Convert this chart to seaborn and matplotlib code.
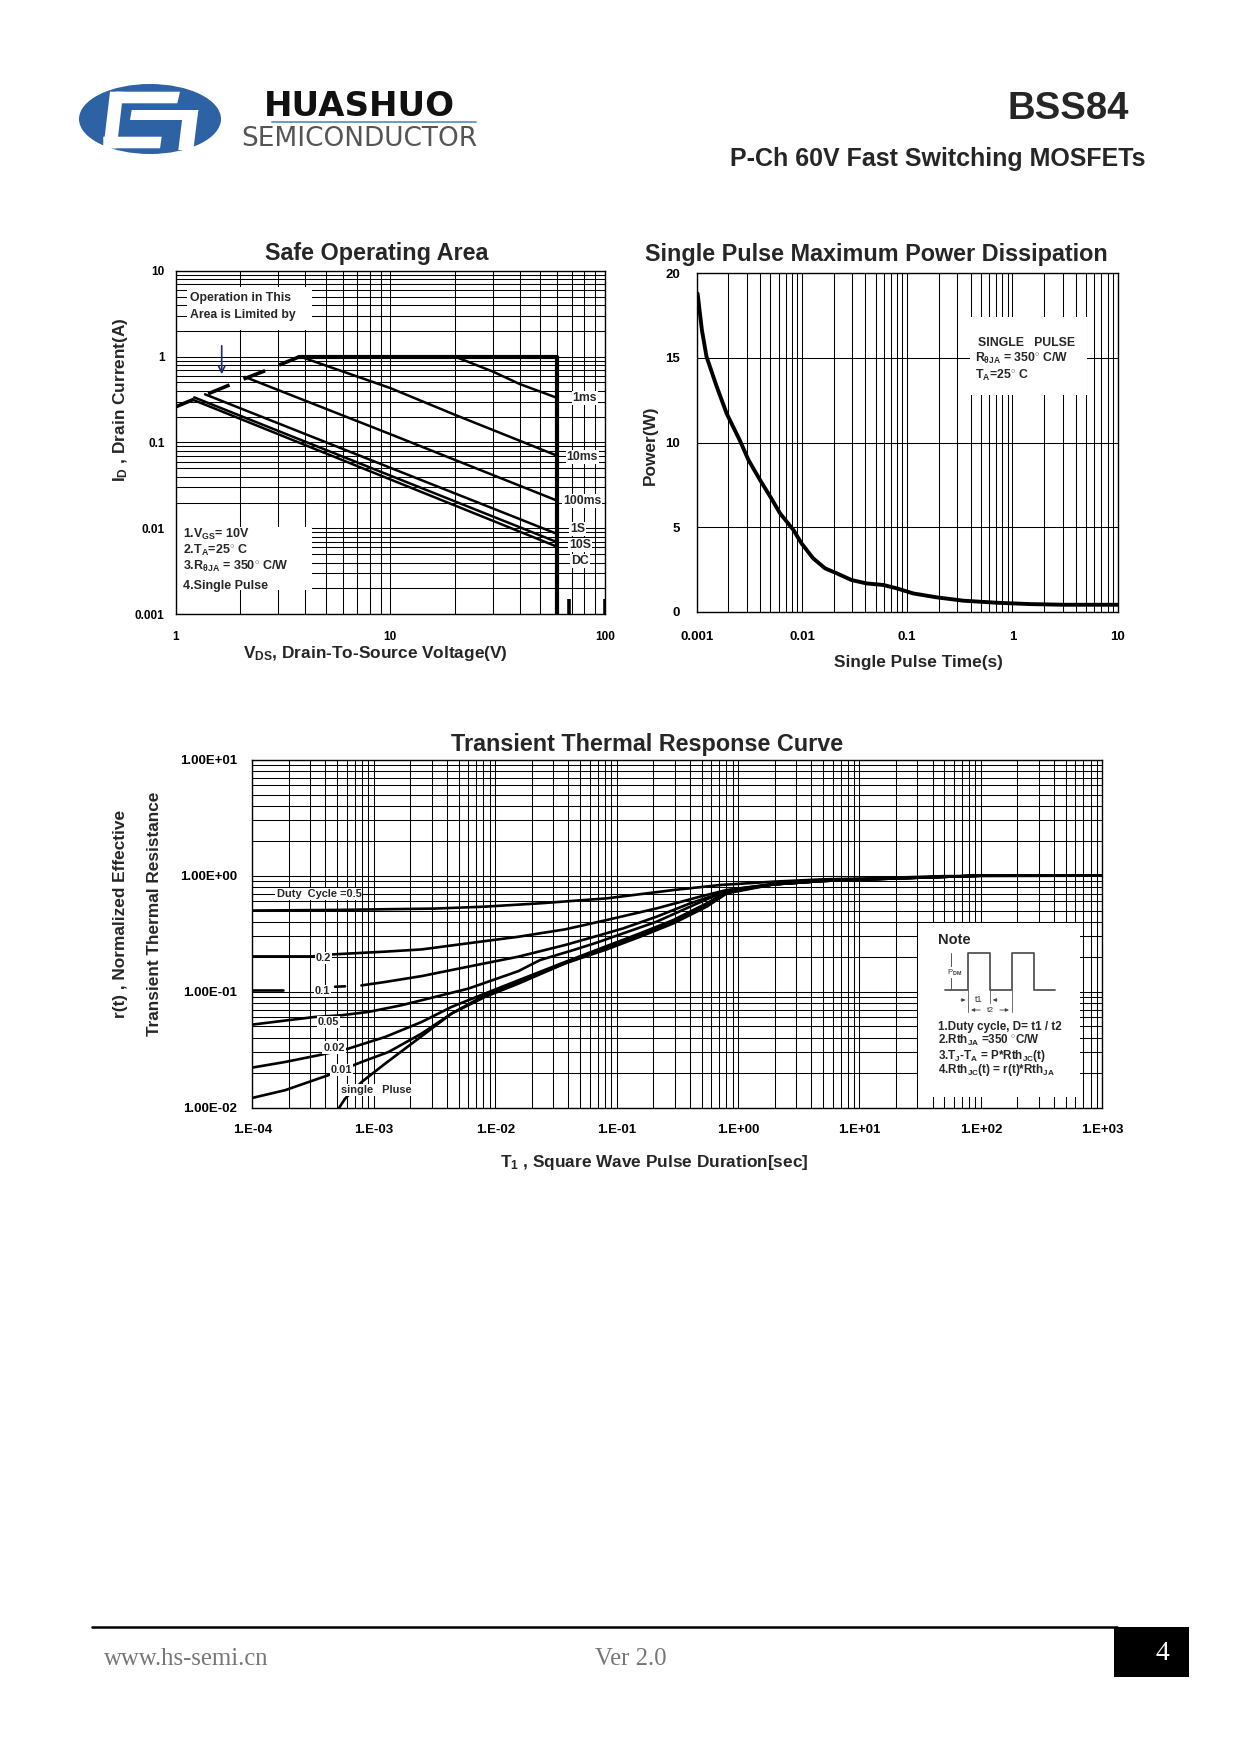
import numpy as np
import matplotlib
matplotlib.use("Agg")
import matplotlib.pyplot as plt
import seaborn as sns
from matplotlib.patches import Ellipse, Polygon, Rectangle
from matplotlib.ticker import LogLocator, NullFormatter

# ---------------------------------------------------------------- data
# Safe Operating Area (V, A)
soa_limit_v = [1.0, 1.22, 1.42, 1.79, 2.08, 2.63, 3.04, 3.75]
soa_limit_i = [0.26, 0.32, 0.37, 0.47, 0.55, 0.69, 0.80, 0.99]
soa_bound_v = [3.75, 60.0, 60.0]
soa_bound_i = [1.0, 1.0, 0.001]
soa_1ms_v = [20, 30, 40, 60]
soa_1ms_i = [1.0, 0.67, 0.48, 0.33]
soa_10ms_v = [3.8, 10, 20, 30, 60]
soa_10ms_i = [1.0, 0.43, 0.21, 0.14, 0.07]
soa_100ms_v = [2.1, 10, 60]
soa_100ms_i = [0.58, 0.125, 0.021]
soa_1s_v = [1.37, 60]
soa_1s_i = [0.364, 0.0086]
soa_10s_v = [1.22, 60]
soa_10s_i = [0.335, 0.0069]
soa_dc_v = [1.22, 60]
soa_dc_i = [0.31, 0.0061]
soa_labels = ["1ms", "10ms", "100ms", "1S", "10S", "DC"]
soa_label_v = [70.7, 66.3, 63.9, 68.7, 68.2, 69.4]
soa_label_i = [0.327, 0.0684, 0.0210, 0.00976, 0.0064, 0.0042]
soa_stub_v = [68, 100]
soa_stub_i = [0.001, 0.0015]
soa_xticks = [1, 10, 100]
soa_xticklabels = ["1", "10", "100"]
soa_yticks = [0.001, 0.01, 0.1, 1, 10]
soa_yticklabels = ["0.001", "0.01", "0.1", "1", "10"]

# Single pulse maximum power dissipation (s, W)
pw_t = [0.00102, 0.00112, 0.00124, 0.00155, 0.00193, 0.00258, 0.0031, 0.0040,
        0.0050, 0.0062, 0.0083, 0.0099, 0.0128, 0.0166, 0.0214, 0.0296, 0.0412,
        0.0593, 0.0795, 0.114, 0.19, 0.342, 0.71, 1.47, 3.05, 10.0]
pw_p = [18.8, 16.65, 15.07, 13.3, 11.7, 10.1, 8.97, 7.78, 6.8, 5.81, 4.83, 4.04,
        3.15, 2.56, 2.27, 1.87, 1.67, 1.58, 1.38, 1.08, 0.85, 0.65, 0.53, 0.45,
        0.41, 0.41]
pw_xticks = [0.001, 0.01, 0.1, 1, 10]
pw_xticklabels = ["0.001", "0.01", "0.1", "1", "10"]
pw_yticks = [0, 5, 10, 15, 20]
pw_yticklabels = ["0", "5", "10", "15", "20"]

# Transient thermal response (s, normalized r(t))
tr_t_05 = [1e-4, 4.8e-4, 3.2e-3, 8.2e-3, 2.34e-2, 8.3e-2, 0.29, 0.71, 1.95, 5.0, 12.2, 50, 1000]
tr_r_05 = [0.50, 0.506, 0.52, 0.54, 0.577, 0.637, 0.75, 0.83, 0.887, 0.929, 0.948, 0.99, 1.0]
tr_t_02 = [1e-4, 3.08e-4, 4.5e-4, 1.24e-3, 2.48e-3, 6.0e-3, 1.55e-2, 3.76e-2, 8.28e-2,
           0.214, 0.486, 0.807, 1.95, 5.05, 12.2, 100, 1000]
tr_r_02 = [0.201, 0.201, 0.209, 0.221, 0.231, 0.261, 0.297, 0.344, 0.414, 0.522, 0.659,
           0.752, 0.847, 0.906, 0.935, 1.0, 1.0]
tr_t_01 = [1e-4, 1.8e-4, np.nan, 4.8e-4, 5.8e-4, np.nan, 7.9e-4, 1.24e-3, 2.48e-3, 6.0e-3,
           1.55e-2, 3.76e-2, 6.84e-2, 0.1135, 0.214, 0.403, 0.711, 1.04, 1.95, 5.05, 12.2, 100, 1000]
tr_r_01 = [0.103, 0.103, np.nan, 0.110, 0.111, np.nan, 0.113, 0.121, 0.136, 0.164, 0.200,
           0.252, 0.301, 0.351, 0.443, 0.577, 0.703, 0.776, 0.841, 0.902, 0.933, 1.0, 1.0]
tr_t_005 = [1e-4, 3.27e-4, 5.43e-4, 9.0e-4, 1.69e-3, 3.19e-3, 6.0e-3, 1.55e-2, 2.34e-2, 4.4e-2,
            6.84e-2, 0.1135, 0.214, 0.403, 0.711, 1.04, 1.95, 5.05, 12.2, 100, 1000]
tr_r_005 = [0.0519, 0.0604, 0.0625, 0.0667, 0.0762, 0.0899, 0.106, 0.150, 0.187, 0.228,
            0.264, 0.318, 0.401, 0.540, 0.703, 0.77, 0.84, 0.90, 0.93, 1.0, 1.0]
tr_t_002 = [1e-4, 1.86e-4, 3.49e-4, 6.17e-4, 1.24e-3, 2.48e-3, 4.38e-3, 8.24e-3, 1.55e-2,
            3.76e-2, 8.28e-2, 0.156, 0.293, 0.552, 0.807, 1.95, 5.05, 12.2, 100, 1000]
tr_r_002 = [0.0221, 0.0247, 0.0282, 0.0322, 0.0406, 0.0547, 0.0738, 0.0962, 0.125, 0.180,
            0.247, 0.318, 0.414, 0.577, 0.728, 0.84, 0.90, 0.93, 1.0, 1.0]
tr_t_001 = [1e-4, 1.86e-4, 4.22e-4, 7.94e-4, 1.32e-3, 2.48e-3, 4.38e-3, 8.24e-3, 1.55e-2,
            3.76e-2, 8.28e-2, 0.156, 0.293, 0.552, 0.807, 1.95, 5.05, 12.2, 100, 1000]
tr_r_001 = [0.0121, 0.0141, 0.0190, 0.0247, 0.0301, 0.0435, 0.0647, 0.0899, 0.117, 0.175,
            0.240, 0.307, 0.401, 0.557, 0.718, 0.84, 0.90, 0.93, 1.0, 1.0]
tr_t_sp = [5.13e-4, 5.79e-4, 7.94e-4, 1.24e-3, 2.33e-3, 4.38e-3, 8.24e-3, 1.55e-2, 3.76e-2,
           8.28e-2, 0.156, 0.293, 0.552, 0.807, 1.95, 5.05, 12.2, 100, 1000]
tr_r_sp = [0.0098, 0.0119, 0.0166, 0.0239, 0.0393, 0.0647, 0.0931, 0.121, 0.175, 0.231,
           0.297, 0.387, 0.540, 0.703, 0.84, 0.90, 0.93, 1.0, 1.0]
tr_labels = ["Duty  Cycle =0.5", "0.2", "0.1", "0.05", "0.02", "0.01", "single   Pluse"]
tr_label_t = [1.58e-4, 3.34e-4, 3.27e-4, 3.45e-4, 3.84e-4, 4.43e-4, 5.37e-4]
tr_label_r = [0.69, 0.195, 0.101, 0.0547, 0.0329, 0.0209, 0.01426]
tr_xticks = [1e-4, 1e-3, 1e-2, 1e-1, 1e0, 1e1, 1e2, 1e3]
tr_xticklabels = ["1.E-04", "1.E-03", "1.E-02", "1.E-01", "1.E+00", "1.E+01", "1.E+02", "1.E+03"]
tr_yticks = [0.01, 0.1, 1, 10]
tr_yticklabels = ["1.00E-02", "1.00E-01", "1.00E+00", "1.00E+01"]

# ---------------------------------------------------------------- style
sns.set_theme(style="white")
plt.rcParams["font.family"] = ["Liberation Sans", "DejaVu Sans"]
plt.rcParams["mathtext.fontset"] = "custom"
plt.rcParams["mathtext.rm"] = "Liberation Sans:bold"
plt.rcParams["mathtext.it"] = "Liberation Sans:bold"
plt.rcParams["mathtext.bf"] = "Liberation Sans:bold"
plt.rcParams["mathtext.default"] = "rm"

W, H = 1240, 1754
fig = plt.figure(figsize=(W / 100, H / 100), dpi=100)
fig.patch.set_facecolor("white")

SOA_BOX = (175.7, 270.7, 605.0, 614.3)
PWR_BOX = (696.7, 273.3, 1117.7, 611.7)
TTR_BOX = (252.4, 759.7, 1102.3, 1107.5)

TITLE_FS = 16.8
LABEL_FS = 12.4


def add_ax(box):
    L, T, R, B = box
    return fig.add_axes([L / W, 1 - B / H, (R - L) / W, (B - T) / H])


def fr(box, px, py):
    L, T, R, B = box
    return (px - L) / (R - L), (B - py) / (B - T)


def white_box(ax, box, x0, y0, x1, y1):
    a = fr(box, x0, y1)
    b = fr(box, x1, y0)
    ax.add_patch(Rectangle(a, b[0] - a[0], b[1] - a[1], transform=ax.transAxes,
                           fc="white", ec="none", zorder=1))


def base_style(ax, tsize, xpad, ypad):
    for s in ax.spines.values():
        s.set_color("black")
        s.set_linewidth(1.0)
        s.set_zorder(2.6)
    ax.tick_params(which="both", length=0, labelsize=tsize, colors="black")
    ax.tick_params(axis="x", pad=xpad)
    ax.tick_params(axis="y", pad=ypad)
    ax.set_axisbelow(True)


def curve(ax, x, y, lw=1.8):
    sns.lineplot(x=x, y=y, ax=ax, color="black", linewidth=lw, estimator=None,
                 sort=False, legend=False)


def split_nan(x, y):
    segs, cx, cy = [], [], []
    for a, b in zip(x, y):
        if np.isnan(a):
            segs.append((cx, cy)); cx, cy = [], []
        else:
            cx.append(a); cy.append(b)
    segs.append((cx, cy))
    return segs


def place_title(ax, box, text, px, py):
    fx, fy = fr(box, px, py)
    ax.set_title(text, fontsize=TITLE_FS, fontweight="bold", x=fx, y=fy, va="center", pad=0)


# ================================================================ SOA
ax1 = add_ax(SOA_BOX)
ax1.set_xscale("log"); ax1.set_yscale("log")
ax1.set_xlim(1, 100); ax1.set_ylim(0.001, 10)
for axis in (ax1.xaxis, ax1.yaxis):
    axis.set_minor_locator(LogLocator(base=10, subs=np.arange(2, 10), numticks=50))
    axis.set_minor_formatter(NullFormatter())
ax1.grid(which="both", color="black", linewidth=0.75)
base_style(ax1, 8.5, 12, 8)
ax1.set_xticks(soa_xticks, soa_xticklabels, fontweight="bold")
ax1.set_yticks(soa_yticks, soa_yticklabels, fontweight="bold")

white_box(ax1, SOA_BOX, 186.7, 286.7, 311.7, 330)
white_box(ax1, SOA_BOX, 177, 527, 312, 590)

curve(ax1, soa_limit_v, soa_limit_i, lw=2.6)
ax1.lines[-1].set_linestyle((0.9, (6.4, 4.2)))
curve(ax1, soa_bound_v, soa_bound_i, lw=3.0)
for v, i in [(soa_1ms_v, soa_1ms_i), (soa_10ms_v, soa_10ms_i), (soa_100ms_v, soa_100ms_i),
             (soa_1s_v, soa_1s_i), (soa_10s_v, soa_10s_i), (soa_dc_v, soa_dc_i)]:
    curve(ax1, v, i, lw=1.8)
ax1.vlines(soa_stub_v, soa_stub_i[0], soa_stub_i[1], color="black", linewidth=2.6, zorder=3)

for txt, v, i in zip(soa_labels, soa_label_v, soa_label_i):
    ax1.text(v, i, txt, fontsize=8.8, fontweight="bold", ha="left", va="center", zorder=4,
             bbox=dict(fc="white", ec="none", pad=0.6))

for txt, py in [("Operation in This", 298), ("Area is Limited by", 315)]:
    ax1.text(*fr(SOA_BOX, 190, py), txt, transform=ax1.transAxes, fontsize=8.8,
             fontweight="bold", ha="left", va="center", zorder=4)
ax1.annotate("", xy=fr(SOA_BOX, 221.7, 377), xytext=fr(SOA_BOX, 221.7, 343),
             xycoords="axes fraction", textcoords="axes fraction",
             arrowprops=dict(arrowstyle="->", color="#1c2a70", lw=1.2, mutation_scale=11),
             zorder=4)
soa_notes = [r"1.V$_{GS}$= 10V", r"2.T$_{A}$=25$^{\circ}$ C",
             r"3.R$_{\theta JA}$ = 350$^{\circ}$ C/W", "4.Single Pulse"]
for txt, py in zip(soa_notes, [534, 550, 566, 586]):
    ax1.text(*fr(SOA_BOX, 183, py), txt, transform=ax1.transAxes, fontsize=9,
             fontweight="bold", ha="left", va="center", zorder=4)

place_title(ax1, SOA_BOX, "Safe Operating Area", 377, 254)
ax1.set_xlabel(r"V$_{DS}$, Drain-To-Source Voltage(V)", fontsize=LABEL_FS, fontweight="bold")
ax1.xaxis.set_label_coords(*fr(SOA_BOX, 375, 654)); ax1.xaxis.label.set_va("center")
ax1.set_ylabel(r"I$_{D}$ , Drain Current(A)", fontsize=LABEL_FS, fontweight="bold")
ax1.yaxis.set_label_coords(*fr(SOA_BOX, 120, 400)); ax1.yaxis.label.set_va("center")

# ================================================================ Power
ax2 = add_ax(PWR_BOX)
ax2.set_xscale("log")
ax2.set_xlim(0.001, 10); ax2.set_ylim(0, 20)
ax2.xaxis.set_minor_locator(LogLocator(base=10, subs=np.arange(2, 10), numticks=50))
ax2.xaxis.set_minor_formatter(NullFormatter())
ax2.grid(axis="x", which="both", color="black", linewidth=0.75)
ax2.grid(axis="y", which="major", color="black", linewidth=0.75)
base_style(ax2, 9.5, 14, 12)
ax2.set_xticks(pw_xticks, pw_xticklabels, fontweight="bold")
ax2.set_yticks(pw_yticks, pw_yticklabels, fontweight="bold")
white_box(ax2, PWR_BOX, 970, 317, 1087, 395)
curve(ax2, pw_t, pw_p, lw=2.8)
for txt, px, py in [("SINGLE   PULSE", 978, 343), (r"R$_{\theta JA}$ = 350$^{\circ}$ C/W", 975, 358),
                    (r"T$_{A}$=25$^{\circ}$ C", 975, 375)]:
    ax2.text(*fr(PWR_BOX, px, py), txt, transform=ax2.transAxes, fontsize=8.8,
             fontweight="bold", ha="left", va="center", zorder=4)
place_title(ax2, PWR_BOX, "Single Pulse Maximum Power Dissipation", 876, 254)
ax2.set_xlabel("Single Pulse Time(s)", fontsize=LABEL_FS, fontweight="bold")
ax2.xaxis.set_label_coords(*fr(PWR_BOX, 918, 662)); ax2.xaxis.label.set_va("center")
ax2.set_ylabel("Power(W)", fontsize=LABEL_FS, fontweight="bold")
ax2.yaxis.set_label_coords(*fr(PWR_BOX, 650, 445)); ax2.yaxis.label.set_va("center")

# ================================================================ Transient
ax3 = add_ax(TTR_BOX)
ax3.set_xscale("log"); ax3.set_yscale("log")
ax3.set_xlim(1e-4, 1e3); ax3.set_ylim(0.01, 10)
for axis in (ax3.xaxis, ax3.yaxis):
    axis.set_minor_locator(LogLocator(base=10, subs=np.arange(2, 10), numticks=50))
    axis.set_minor_formatter(NullFormatter())
ax3.grid(which="both", color="black", linewidth=0.75)
base_style(ax3, 9.5, 12, 11)
ax3.set_xticks(tr_xticks, tr_xticklabels, fontweight="bold")
ax3.set_yticks(tr_yticks, tr_yticklabels, fontweight="bold")
white_box(ax3, TTR_BOX, 918, 923, 1080, 1097)

for t, r in [(tr_t_05, tr_r_05), (tr_t_02, tr_r_02), (tr_t_01, tr_r_01), (tr_t_005, tr_r_005),
             (tr_t_002, tr_r_002), (tr_t_001, tr_r_001), (tr_t_sp, tr_r_sp)]:
    for sx, sy in split_nan(t, r):
        curve(ax3, sx, sy, lw=1.9)
for txt, t, r in zip(tr_labels, tr_label_t, tr_label_r):
    ax3.text(t, r, txt, fontsize=7.9, fontweight="bold", ha="left", va="center", zorder=4,
             bbox=dict(fc="white", ec="none", pad=0.8))

place_title(ax3, TTR_BOX, "Transient Thermal Response Curve", 647, 745)
ax3.set_xlabel(r"T$_{1}$ , Square Wave Pulse Duration[sec]", fontsize=LABEL_FS, fontweight="bold")
ax3.xaxis.set_label_coords(*fr(TTR_BOX, 654, 1163)); ax3.xaxis.label.set_va("center")
ax3.set_ylabel("r(t) , Normalized Effective\nTransient Thermal Resistance", fontsize=LABEL_FS,
               fontweight="bold", linespacing=2.6)
ax3.yaxis.set_label_coords(*fr(TTR_BOX, 137.5, 913.5)); ax3.yaxis.label.set_va("center")

# ================================================================ page overlay
pg = fig.add_axes([0, 0, 1, 1], zorder=10)
pg.set_xlim(0, W); pg.set_ylim(H, 0); pg.axis("off"); pg.patch.set_alpha(0)

# logo
pg.add_patch(Ellipse((150, 119), 142, 70, fc="#2d62a5", ec="none"))
logo_polys = [
    [(115, 91.7), (180, 91.7), (177.3, 103.3), (120, 103.3)],
    [(110, 91.7), (123.3, 91.7), (116.7, 148.3), (103.3, 148.3)],
    [(103.3, 136.7), (161.7, 136.7), (160, 148.3), (103.3, 148.3)],
    [(131.7, 110), (198.3, 110), (196.7, 120), (130, 120)],
    [(183.3, 110), (198.3, 110), (193.3, 150), (178.3, 150)],
]
for poly in logo_polys:
    pg.add_patch(Polygon(poly, closed=True, fc="white", ec="none"))
pg.text(359.5, 107, "HUASHUO", fontsize=24.5, fontweight="bold", family="DejaVu Sans",
        ha="center", va="center", color="#111111")
pg.plot([272, 476], [122, 122], color="#6b9bd1", linewidth=1.4)
pg.text(359.5, 139, "SEMICONDUCTOR", fontsize=19, family="DejaVu Sans", ha="center",
        va="center", color="#555555")
pg.text(1129, 109, "BSS84", fontsize=27.5, fontweight="bold", ha="right", va="center")
pg.text(1146, 159, "P-Ch 60V Fast Switching MOSFETs", fontsize=18, fontweight="bold",
        ha="right", va="center")

# transient note sketch
pg.text(938, 940, "Note", fontsize=10.5, fontweight="bold", ha="left", va="center")
pg.plot([945, 968.3, 968.3, 990, 990, 1011.7, 1011.7, 1034.3, 1034.3, 1055],
        [990, 990, 952.7, 952.7, 990, 990, 952.7, 952.7, 990, 990], color="#555555", lw=1.3)
pg.plot([950.7, 950.7], [952.7, 990], color="#555555", lw=0.7)
pg.text(947, 972.7, r"P$_{DM}$", fontsize=5.5, ha="left", va="center", color="#333333",
        bbox=dict(fc="white", ec="none", pad=0.2))
pg.plot([968.3, 968.3], [990, 1012], color="#555555", lw=0.6)
pg.plot([1011.7, 1011.7], [990, 1012], color="#555555", lw=0.6)
pg.plot([990, 990], [990, 1003], color="#555555", lw=0.6)
pg.annotate("", xy=(968.3, 1000), xytext=(958, 1000),
            arrowprops=dict(arrowstyle="-|>", color="#444444", lw=0.6, mutation_scale=5))
pg.annotate("", xy=(990, 1000), xytext=(1000, 1000),
            arrowprops=dict(arrowstyle="-|>", color="#444444", lw=0.6, mutation_scale=5))
pg.text(979, 1000, "t1", fontsize=6.5, ha="center", va="center", color="#333333")
pg.annotate("", xy=(968.3, 1010), xytext=(983, 1010),
            arrowprops=dict(arrowstyle="-|>", color="#444444", lw=0.6, mutation_scale=5))
pg.annotate("", xy=(1011.7, 1010), xytext=(997, 1010),
            arrowprops=dict(arrowstyle="-|>", color="#444444", lw=0.6, mutation_scale=5))
pg.text(990, 1010, "t2", fontsize=6, ha="center", va="center", color="#333333")
note_lines = ["1.Duty cycle, D= t1 / t2", r"2.Rth$_{JA}$ =350 $^{\circ}$C/W",
              r"3.T$_{J}$-T$_{A}$ = P*Rth$_{JC}$(t)", r"4.Rth$_{JC}$(t) = r(t)*Rth$_{JA}$"]
for txt, py in zip(note_lines, [1026.7, 1040.5, 1055.5, 1070]):
    pg.text(938, py, txt, fontsize=8.4, fontweight="bold", ha="left", va="center")

# footer
pg.plot([92, 1117], [1627, 1627], color="black", linewidth=1.8)
pg.add_patch(Rectangle((1114, 1627), 75, 50, fc="black", ec="none"))
pg.text(1162, 1653, "4", fontsize=20, family="Liberation Serif", color="white",
        ha="center", va="center")
pg.text(104, 1659, "www.hs-semi.cn", fontsize=17.8, family="Liberation Serif", color="#777777",
        ha="left", va="center")
pg.text(595, 1659, "Ver 2.0", fontsize=17.8, family="Liberation Serif", color="#777777",
        ha="left", va="center")

fig.savefig("out.png", dpi=100, facecolor="white")
